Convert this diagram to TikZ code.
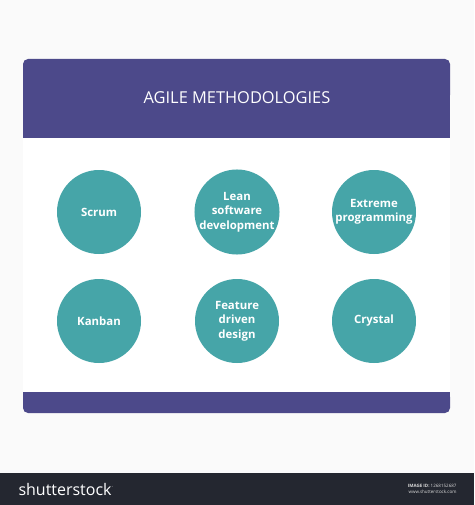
\documentclass[tikz,border=0pt]{standalone}
\usepackage{fontspec}
\setmainfont{Open Sans}
\usepackage{tikz}
\definecolor{agilepurple}{RGB}{76,73,138}
\definecolor{agileteal}{RGB}{70,165,168}
\definecolor{stockbar}{RGB}{36,39,48}
\tikzset{
  method/.style={circle,fill=agileteal,minimum size=84pt,inner sep=0pt,
    text=white,align=center,font=\fontsize{11.4}{14.5}\selectfont\bfseries},
  band/.style={fill=agilepurple,draw=none}
}

\begin{document}
\begin{tikzpicture}[x=1pt,y=-1pt]
          \useasboundingbox (0,0) rectangle (474,505);
          \fill[gray!4] (0,0) rectangle (474,505);
          \fill[white,rounded corners=5pt] (23,59) rectangle (450,413);
          \fill[band,rounded corners=5pt] (23,59) rectangle (450,100);
          \fill[band] (23,90) rectangle (450,138);
          \fill[band,rounded corners=5pt] (23,392) rectangle (450,413);
          \fill[band] (23,392) rectangle (450,400);
          \node[text=white,font=\fontsize{16.4}{19}\selectfont] (title) at (237,98) {AGILE METHODOLOGIES};
          % first row
          \node[method] (scrum) at (99,212) {Scrum};
          \node[method] (lean) at (237,212) {Lean\\software\\development};
          \node[method] (xp) at (374,212) {Extreme\\programming};
          % second row
          \node[method] (kanban) at (99,321) {Kanban};
          \node[method] (fdd) at (237,321) {Feature\\driven\\design};
          \node[method] (crystal) at (374,321) {Crystal};
          % stock bar
          \fill[stockbar] (0,473) rectangle (474,505);
          \node[text=white,anchor=west,font=\fontsize{16}{20}\selectfont] (logo) at (15,489) {shutterstock\textsuperscript{\tiny ·}};
          \node[text=white!85!black,anchor=east,align=right,font=\fontsize{4.5}{6}\selectfont] (imgid) at (460,489) {\textbf{IMAGE ID:} 1268152687\\www.shutterstock.com};
\end{tikzpicture}
\end{document}
